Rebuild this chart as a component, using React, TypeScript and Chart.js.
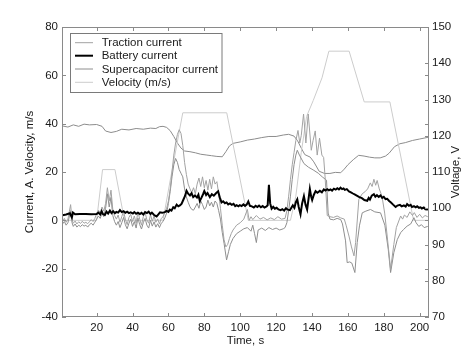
import { useEffect, useRef } from "react";
import { Chart, registerables } from "chart.js";

Chart.register(...registerables);

const FONT = '"Liberation Sans", Arial, Helvetica, sans-serif';

// ---- tick labels ----
const xTicks = [20, 40, 60, 80, 100, 120, 140, 160, 180, 200];
const leftTicks = [-40, -20, 0, 20, 40, 60, 80];
const rightTicks = [70, 80, 90, 100, 110, 120, 130, 140, 150];

const legendLabels = ["Traction current", "Battery current", "Supercapacitor current", "Velocity (m/s)"];
const xTitle = "Time, s";
const leftTitle = "Current, A. Velocity, m/s";
const rightTitle = "Voltage, V";

// ---- Battery current (A) ----
const batteryT = [1, 3, 5.1, 6.2, 6.8, 8, 10.7, 14, 17, 20, 21, 22, 22.8, 23.6, 24.6, 25.5, 26.4, 27.4, 28.3, 29.2, 30.2, 31, 32, 33, 34, 35, 36, 37, 38, 39, 40.2, 41, 42, 43, 44.1, 45, 46, 47, 48, 49, 50, 50.8, 52, 53.4, 54.3, 55.3, 56.5, 58, 59, 60, 60.8, 61.7, 62.7, 63.5, 64.6, 65.5, 66.4, 67.3, 68.2, 69.2, 70.1, 71, 72, 72.9, 73.8, 74.8, 75.9, 76.7, 77.5, 78.5, 79.3, 80, 81, 81.8, 83.1, 84.2, 85.3, 86.5, 87.7, 88.6, 89.6, 90.5, 91.5, 92.4, 93.3, 94.3, 95.3, 96.3, 97.2, 98, 99, 99.8, 100.8, 101.8, 102.7, 103.6, 104.5, 105.4, 106.5, 107.6, 108.6, 109.6, 110.5, 111.5, 112.5, 113.5, 114.7, 115.3, 116, 116.7, 117.5, 118.4, 119.3, 120.3, 121.3, 122.5, 123.5, 124.5, 125.5, 126.5, 127.7, 128.5, 129.3, 130.2, 131, 131.8, 132.6, 133.6, 134.5, 135.5, 136.4, 137.3, 138.1, 138.8, 139.5, 140.1, 141, 142, 143, 144.4, 145.5, 146.6, 147.5, 148.5, 149.4, 150.3, 151.2, 152.2, 153.2, 154.1, 155, 155.9, 156.8, 157.6, 158.3, 159.4, 160.6, 161.7, 162.8, 164, 165.2, 166.4, 167.8, 169.2, 170.8, 171.6, 172.3, 173.3, 174.5, 175.3, 176.2, 177.2, 178.2, 179.1, 180, 181, 181.9, 183, 184, 185.2, 186.6, 187.6, 189, 190, 191.2, 192.2, 193, 194, 195, 195.7, 196.8, 197.8, 198.6, 199.6, 200.5, 201.2, 202.3, 203.2, 204.2, 205];
const batteryI = [2.1, 2.4, 2.9, 1.2, 3.2, 2.5, 2.6, 2.6, 2.5, 2.6, 3.2, 2.4, 3.8, 2.5, 2.2, 3.6, 2.8, 4.0, 3.0, 3.8, 3.0, 3.5, 3.2, 4.2, 3.4, 3.8, 3.1, 3.6, 3.0, 3.3, 2.8, 3.4, 2.7, 3.2, 2.6, 3.1, 2.4, 3.4, 3.0, 3.6, 2.6, 3.2, 2.2, 1.6, 2.4, 3.3, 3.1, 3.4, 3.9, 3.5, 4.4, 4.0, 5.4, 5.0, 6.5, 5.8, 6.2, 6.8, 8.3, 10, 12.2, 11, 10.3, 11.2, 9.6, 10.3, 9.4, 10.6, 8, 9.5, 10.8, 12.1, 10.5, 11.3, 9.6, 10.8, 10.2, 11.2, 12, 9.5, 7.4, 7.9, 7.1, 7.4, 6.6, 7.0, 6.4, 6.8, 5.9, 6.3, 5.8, 6.3, 5.9, 6.6, 6.0, 6.5, 7.8, 6.0, 5.8, 5.3, 6.0, 5.5, 6.1, 5.4, 5.9, 5.3, 5.8, 6.2, 14.7, 7, 4.8, 5.6, 4.8, 5.2, 4.5, 4.2, 4.6, 4.0, 5.0, 4.4, 4.2, 5.2, 6.2, 5.2, 7.5, 8.7, 5.5, 2.5, 7, 10, 6.5, 4.5, 9, 13, 10, 8.4, 10.5, 12.1, 11.4, 12.2, 11.6, 12.8, 12.3, 12.9, 12.4, 12.8, 12.3, 13.1, 12.7, 13.3, 12.8, 13.5, 12.9, 13.2, 12.6, 12.9, 12.0, 11.6, 11.1, 10.6, 10.1, 9.6, 9.2, 8.4, 8.1, 9.3, 8.6, 10.2, 10.8, 9.8, 10.4, 9.7, 10.3, 9.3, 9.7, 8.8, 8.9, 8.0, 7.4, 6.5, 5.5, 6.1, 6.4, 5.8, 6.2, 5.7, 6.7, 6.0, 6.4, 5.5, 5.9, 5.4, 5.8, 5.2, 5.4, 4.9, 5.3, 4.6, 4.5, 4.8];

// ---- Traction current (A) ----
const tractionT = [1, 2, 3, 4, 5.5, 6.3, 7, 8, 9, 10, 11, 12, 13, 14, 15, 16, 17, 18, 19, 20, 21, 22, 23, 24, 25, 26, 27, 28, 29, 30, 31, 32, 33, 34, 35, 36, 37, 38, 39, 40, 41, 42, 43, 44, 45, 46, 47, 48, 49, 50, 51, 52, 53, 54, 55, 56, 57, 58, 59, 60, 61, 62, 63, 64, 65, 66, 67, 68, 69, 70, 71, 72, 73, 74, 75, 76, 77, 78, 79, 80, 81, 82, 83, 84, 85, 86, 87, 88, 89, 90, 91, 92, 93, 94, 95, 96, 97, 98, 100, 102, 104, 105, 106, 107, 109, 111, 113, 115, 117, 119, 121, 123, 125, 126, 127, 128, 129, 130, 131, 132.2, 133.2, 134, 135.3, 136.6, 137.9, 139.6, 140.6, 141.8, 142.9, 144.2, 145.5, 146.5, 147.3, 148.5, 150, 152, 154, 156, 158, 159, 160.6, 162, 163.4, 164.3, 166.1, 168, 169.5, 171, 172.5, 173.5, 174.5, 175.5, 176.3, 177.5, 179, 180.5, 181.9, 183.8, 185.6, 187, 189.4, 190.5, 191.5, 193, 194.5, 196, 197, 198.5, 200, 201.5, 203, 204.5];
const tractionI = [-0.5, 0.8, -0.8, 0.5, 6.5, 0.2, -1.2, -0.3, -1.5, -0.6, -1.3, -0.4, -1.2, -0.8, -1.4, -0.6, 0.3, -0.5, 0.8, 2.8, 4.2, 3.2, 5.5, 3.8, 7, 13.5, 8, 12.5, 4.5, 2, 0.5, 2.2, -0.8, 1.5, 3.8, 0.5, -1.8, 1.2, 2.5, -0.5, 1.8, -1.2, 3.5, 0.5, -2, 1.5, 3.2, 0.2, -1.2, 2.4, -0.4, 1.8, -0.8, 0.6, -1.5, 0.8, 1.5, 3.5, 5, 8, 13, 20, 27, 32, 35.5, 37.5, 36, 31, 24, 19, 15, 13, 11.5, 13.5, 11, 15, 17.5, 14, 18, 13.5, 16.5, 12.5, 17, 13, 18, 15, 16, 11, 5, -2, -8, -11, -10, -7.5, -5.5, -4, -3, -2, -1, 0.5, 4.5, 0, 1.5, 0.3, 2, 0.5, 1.2, 0.2, 1, 0.3, 1.5, 0.5, 0.8, 4, 10, 17, 23, 28, 33, 37.2, 32, 35, 44, 32, 44, 29, 33, 37, 27, 34, 27, 26, 18, 2, 1.5, 1.2, 1.8, 1, 0.5, -2, -6.5, -11, -14.7, -9.2, 8.7, 11, 11.8, 13, 15.5, 14, 17, 14.5, 16.5, 13, 10, 3, -6.5, -20.2, -10, -3, 1.8, 0.5, 2.2, 1.2, 3.5, 2, 3.2, 1.2, 2.5, 1, 2, 1.5];

// ---- Supercapacitor current (A) ----
const superT = [1, 2, 3, 4, 5.5, 6.3, 7, 8, 9, 10, 11, 12, 13, 14, 15, 16, 17, 18, 19, 20, 21, 22, 23, 24, 25, 26, 27, 28, 29, 30, 31, 32, 33, 34, 35, 36, 37, 38, 39, 40, 41, 42, 43, 44, 45, 46, 47, 48, 49, 50, 51, 52, 53, 54, 55, 56, 57, 58, 59, 60, 61, 62, 63, 64, 65, 66, 67, 68, 69, 70, 71, 72, 73, 74, 75, 76, 77, 78, 79, 80, 81, 82, 83, 84, 85, 86, 87, 88, 89, 90, 91, 92.4, 93.5, 94.5, 96, 98, 100, 102, 104, 106, 107, 108, 109, 110, 112, 114, 116, 118, 120, 122, 124, 125, 126, 127, 128, 129, 130, 131, 131.8, 133, 135.5, 138, 141, 143.5, 145.7, 148.1, 149, 150, 152, 154, 156, 157, 158.7, 159.6, 161, 162.2, 163.9, 165.2, 166.5, 168, 170, 172.6, 175, 178.2, 180.6, 182.5, 183.8, 185.6, 187.5, 189.4, 191, 193, 195, 196.8, 198, 199.5, 201, 202.5, 204.5];
const superI = [-1.5, -0.5, -2, -1, 4, -1, -2.5, -1.5, -2.8, -2, -2.6, -1.8, -2.4, -2, -2.8, -1.8, -1.2, -2, -0.8, 0.5, 1.8, 0.8, 3, 1.5, 5, 11, 5.5, 9.5, 2, -0.5, -2, -0.5, -3, -1, 1.2, -1.8, -3.5, -1.2, 0.5, -2.5, -0.5, -3.2, 1, -1.8, -3.6, -1, 0.8, -2, -3.2, 0, -2.4, -0.6, -2.8, -1.4, -3, -1.2, -0.5, 1, 3, 7, 12, 18, 23, 25.6, 24, 21, 19.5, 18, 13, 9.7, 7.5, 5.6, 4.5, 4.2, 5.5, 7, 5, 8, 6.5, 4.5, 5.5, 8.4, 6, 7.5, 5.5, 8, 7, 4, 0.5, -5, -9.5, -16.4, -13, -10, -7.5, -5.5, -4.5, -3.5, -3, -4.5, -2, -5.5, -9.2, -4, -3.2, -4.2, -3, -3.8, -3.2, -4, -3.5, -3, -1, 4, 10, 17, 23, 27, 29, 27, 23.5, 22, 20.7, 19.5, 18, 16.6, 3, 0.5, 0.2, 0.8, 0.3, -1.5, -8.5, -17.5, -17.2, -17.7, -21.6, -9.2, -2, 3.1, 3.8, 4.5, 3.5, 3.1, -2, -12, -21.6, -13.4, -8, -5.1, -3.8, -2.4, -1.5, 1.1, -1, -2.5, -1.8, -3, -2.5];

// ---- Velocity (m/s) ----
const velocityT = [1, 20, 23.3, 30.2, 35.5, 57, 61, 68, 92.5, 104.5, 128, 131, 134, 137, 140.7, 145.6, 149.4, 160.7, 169.1, 183.4, 196.6, 205.2];
const velocityV = [0, 0, 21, 21, 0, 0, 16.6, 44.5, 44.5, 0, 0, 10, 28, 43, 49.6, 59, 70, 70, 49, 49, 0, 0];

// ---- Voltage (V), right axis ----
const voltageT = [1, 4, 7, 10, 13, 16, 20, 23, 25, 28, 31, 34, 38, 42, 46, 50, 53, 55, 57, 59, 61, 63, 65, 67, 69, 72, 75, 78, 81, 84, 87, 90, 92, 94, 96, 100, 104, 108, 112, 116, 120, 124, 127, 130, 132, 134, 136, 139, 141, 144, 147, 150, 153, 156, 158, 160, 163, 166, 169, 172, 175, 178, 181, 183, 186, 189, 192, 196, 200, 205];
const voltageV = [122.7, 122.4, 123.0, 122.6, 123.2, 123.0, 123.1, 122.6, 121.3, 120.9, 121.2, 121.8, 121.6, 122.0, 121.8, 122.1, 122.0, 122.5, 122.6, 122.3, 121.4, 119.8, 118.0, 116.6, 115.8, 115.6, 115.3, 114.9, 114.7, 114.5, 114.3, 114.2, 115.6, 117.2, 117.9, 118.3, 118.8, 119.1, 119.5, 119.8, 119.8, 120.2, 120.4, 119.9, 118.6, 116.6, 114.8, 114.1, 112.8, 110.2, 109.6, 109.6, 109.9, 109.8, 110.8, 112.0, 113.4, 114.6, 114.4, 114.1, 113.9, 113.9, 114.4, 115.2, 117.0, 117.8, 118.1, 118.7, 119.1, 119.6];

const pts = (t: number[], v: number[]) => t.map((x, i) => ({ x, y: v[i] }));

const COLORS = {
  traction: "#a2a2a2",
  battery: "#000000",
  supercap: "#8e8e8e",
  velocity: "#cccccc",
  voltage: "#8c8c8c",
  frame: "#8a8a8a",
  text: "#1a1a1a",
};

const framePlugin = {
  id: "matlabFrame",
  afterDatasetsDraw(chart: any) {
    const { ctx, chartArea: a, scales } = chart;
    ctx.save();
    ctx.strokeStyle = COLORS.frame;
    ctx.lineWidth = 1;
    ctx.strokeRect(a.left + 0.5, a.top + 0.5, a.right - a.left - 1, a.bottom - a.top - 1);
    const L = 4;
    ctx.beginPath();
    for (const v of xTicks) {
      const px = Math.round(scales.x.getPixelForValue(v)) + 0.5;
      ctx.moveTo(px, a.bottom);
      ctx.lineTo(px, a.bottom - L);
      ctx.moveTo(px, a.top);
      ctx.lineTo(px, a.top + L);
    }
    for (const v of leftTicks) {
      const py = Math.round(scales.y.getPixelForValue(v)) + 0.5;
      ctx.moveTo(a.left, py);
      ctx.lineTo(a.left + L, py);
      ctx.moveTo(a.right, py);
      ctx.lineTo(a.right - L, py);
    }
    for (const v of rightTicks) {
      const py = Math.round(scales.y2.getPixelForValue(v)) + 0.5;
      ctx.moveTo(a.right, py);
      ctx.lineTo(a.right - L, py);
    }
    ctx.stroke();

    // legend box
    const bx = 70, by = 33, bw = 151.5, bh = 59;
    ctx.fillStyle = "#ffffff";
    ctx.fillRect(bx, by, bw, bh);
    ctx.strokeStyle = "#7a7a7a";
    ctx.strokeRect(bx + 0.5, by + 0.5, bw, bh);
    const rows = [42.7, 55.7, 69, 82.3];
    const cols = [COLORS.traction, COLORS.battery, COLORS.supercap, COLORS.velocity];
    const widths = [1, 2, 1, 1];
    ctx.font = `11.5px ${FONT}`;
    ctx.textBaseline = "middle";
    ctx.textAlign = "left";
    rows.forEach((ry, i) => {
      ctx.beginPath();
      ctx.strokeStyle = cols[i];
      ctx.lineWidth = widths[i];
      ctx.moveTo(75, ry);
      ctx.lineTo(93, ry);
      ctx.stroke();
      ctx.fillStyle = COLORS.text;
      ctx.fillText(legendLabels[i], 101.7, ry + 0.5);
    });

    // axis titles
    ctx.fillStyle = COLORS.text;
    ctx.textAlign = "center";
    ctx.textBaseline = "middle";
    ctx.fillText(xTitle, (a.left + a.right) / 2, 341);
    ctx.save();
    ctx.translate(30, (a.top + a.bottom) / 2);
    ctx.rotate(-Math.PI / 2);
    ctx.fillText(leftTitle, 0, 0);
    ctx.restore();
    ctx.save();
    ctx.translate(456, (a.top + a.bottom) / 2);
    ctx.rotate(-Math.PI / 2);
    ctx.fillText(rightTitle, 0, 0);
    ctx.restore();
    ctx.restore();
  },
};

export default function App() {
  const ref = useRef<HTMLCanvasElement | null>(null);
  useEffect(() => {
    if (!ref.current) return;
    const tickFont = { family: FONT, size: 11.5 };
    const chart = new Chart(ref.current, {
      type: "line",
      data: {
        datasets: [
          { label: legendLabels[1], data: pts(batteryT, batteryI), borderColor: COLORS.battery, borderWidth: 2, yAxisID: "y", order: 0 },
          { label: legendLabels[0], data: pts(tractionT, tractionI), borderColor: COLORS.traction, borderWidth: 1, yAxisID: "y", order: 1 },
          { label: legendLabels[2], data: pts(superT, superI), borderColor: COLORS.supercap, borderWidth: 1, yAxisID: "y", order: 2 },
          { label: legendLabels[3], data: pts(velocityT, velocityV), borderColor: COLORS.velocity, borderWidth: 1, yAxisID: "y", order: 3 },
          { label: "Voltage", data: pts(voltageT, voltageV), borderColor: COLORS.voltage, borderWidth: 1, yAxisID: "y2", order: 4 },
        ],
      },
      options: {
        animation: false,
        responsive: false,
        devicePixelRatio: 1,
        layout: { padding: { top: 27, left: 0, right: 0, bottom: 0 } },
        elements: { point: { radius: 0 }, line: { tension: 0, fill: false } },
        plugins: { legend: { display: false }, tooltip: { enabled: false }, title: { display: false } },
        scales: {
          x: {
            type: "linear",
            min: 0.7,
            max: 205.2,
            grid: { display: false, drawTicks: false },
            border: { display: false },
            ticks: { font: tickFont, color: COLORS.text, padding: 4, maxRotation: 0, autoSkip: false },
            afterBuildTicks: (s: any) => { s.ticks = xTicks.map((value) => ({ value })); },
            afterFit: (s: any) => { s.height = 39; },
          },
          y: {
            type: "linear",
            position: "left",
            min: -40,
            max: 80,
            grid: { display: false, drawTicks: false },
            border: { display: false },
            ticks: { font: tickFont, color: COLORS.text, padding: 4, autoSkip: false },
            afterBuildTicks: (s: any) => { s.ticks = leftTicks.map((value) => ({ value })); },
            afterFit: (s: any) => { s.width = 62; },
          },
          y2: {
            type: "linear",
            position: "right",
            min: 70,
            max: 150,
            grid: { display: false, drawTicks: false },
            border: { display: false },
            ticks: { font: tickFont, color: COLORS.text, padding: 3, autoSkip: false },
            afterBuildTicks: (s: any) => { s.ticks = rightTicks.map((value) => ({ value })); },
            afterFit: (s: any) => { s.width = 45; },
          },
        },
      },
      plugins: [framePlugin],
    } as any);
    return () => chart.destroy();
  }, []);
  return (
    <div style={{ position: "fixed", left: 0, top: 0, width: 474, height: 356, background: "#fff" }}>
      <canvas ref={ref} width={474} height={356} style={{ display: "block", width: 474, height: 356 }} />
    </div>
  );
}
